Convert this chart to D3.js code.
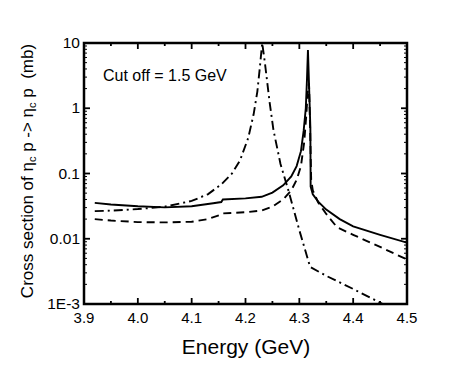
<!DOCTYPE html>
<html><head><meta charset="utf-8">
<script src="https://cdn.jsdelivr.net/npm/d3@7"></script>
<style>body{margin:0;background:#fff}svg{display:block}text{font-family:"Liberation Sans",Arial,sans-serif;fill:#000}</style>
</head><body>
<script>
const xTicks = [3.9, 4.0, 4.1, 4.2, 4.3, 4.4, 4.5];
const xTickLabels = ["3.9","4.0","4.1","4.2","4.3","4.4","4.5"];
const yTicks = [10, 1, 0.1, 0.01, 0.001];
const yTickLabels = ["10","1","0.1","0.01","1E-3"];

const solidE = [3.92,3.95,4.0,4.05,4.1,4.14,4.155,4.158,4.2,4.23,4.25,4.27,4.285,4.295,4.303,4.308,4.312,4.314,4.316,4.3205,4.321,4.325,4.335,4.35,4.375,4.4,4.45,4.5];
const solidV = [0.0355,0.0335,0.0315,0.0303,0.0315,0.0350,0.0365,0.0400,0.0415,0.0440,0.0510,0.0660,0.0900,0.13,0.22,0.45,1.0,2.5,7.8,0.5,0.063,0.048,0.037,0.028,0.020,0.0155,0.0115,0.0087];

const dashE = [3.92,3.95,4.0,4.05,4.1,4.13,4.155,4.158,4.2,4.23,4.25,4.27,4.285,4.295,4.303,4.309,4.313,4.316,4.318,4.32,4.322,4.325,4.335,4.35,4.37,4.4,4.45,4.5];
const dashV = [0.020,0.019,0.018,0.0178,0.0182,0.020,0.0235,0.0245,0.0255,0.027,0.031,0.040,0.055,0.080,0.13,0.3,0.8,2.0,2.4,0.5,0.08,0.055,0.036,0.024,0.015,0.0115,0.0075,0.0048];

const dashDotE = [3.92,3.95,4.0,4.05,4.1,4.13,4.155,4.175,4.19,4.205,4.215,4.222,4.227,4.231,4.236,4.245,4.252,4.265,4.28,4.3,4.32,4.35,4.4,4.45,4.47];
const dashDotV = [0.0265,0.027,0.0285,0.031,0.038,0.048,0.068,0.1,0.16,0.35,0.8,1.8,4.5,10,5,1.2,0.46,0.14,0.054,0.0135,0.0037,0.0027,0.0017,0.00105,0.00085];

const W = 474, H = 366;
const m = {l:84, r:407, t:43, b:304};
const svg = d3.select("body").append("svg").attr("width", W).attr("height", H);
const x = d3.scaleLinear().domain([3.9, 4.5]).range([m.l, m.r]);
const y = d3.scaleLog().domain([0.001, 10]).range([m.b, m.t]);

svg.append("defs").append("clipPath").attr("id","clip").append("rect")
  .attr("x", m.l).attr("y", m.t).attr("width", m.r-m.l).attr("height", m.b-m.t);

// minor ticks
const yMinor = [];
for (let d = 0.001; d < 10; d *= 10) for (let k = 2; k <= 9; k++) yMinor.push(d*k);
const xMinor = [3.95,4.05,4.15,4.25,4.35,4.45];
const tk = svg.append("g").attr("stroke","#000");
yMinor.forEach(v => {
  tk.append("line").attr("x1",m.l).attr("x2",m.l+3).attr("y1",y(v)).attr("y2",y(v)).attr("stroke-width",1);
  tk.append("line").attr("x1",m.r).attr("x2",m.r-3).attr("y1",y(v)).attr("y2",y(v)).attr("stroke-width",1);
});
yTicks.forEach(v => {
  tk.append("line").attr("x1",m.l).attr("x2",m.l+6).attr("y1",y(v)).attr("y2",y(v)).attr("stroke-width",1.8);
  tk.append("line").attr("x1",m.r).attr("x2",m.r-6).attr("y1",y(v)).attr("y2",y(v)).attr("stroke-width",1.8);
});
xMinor.forEach(v => {
  tk.append("line").attr("x1",x(v)).attr("x2",x(v)).attr("y1",m.b).attr("y2",m.b-3).attr("stroke-width",1.8);
  tk.append("line").attr("x1",x(v)).attr("x2",x(v)).attr("y1",m.t).attr("y2",m.t+3).attr("stroke-width",1.8);
});
xTicks.forEach(v => {
  tk.append("line").attr("x1",x(v)).attr("x2",x(v)).attr("y1",m.b).attr("y2",m.b-6).attr("stroke-width",1.8);
  tk.append("line").attr("x1",x(v)).attr("x2",x(v)).attr("y1",m.t).attr("y2",m.t+6).attr("stroke-width",1.8);
});

// tick labels
xTicks.forEach((v,i) => svg.append("text").attr("x",x(v)).attr("y",m.b+19).attr("text-anchor","middle")
  .attr("font-size",15).text(xTickLabels[i]));
yTicks.forEach((v,i) => svg.append("text").attr("x",m.l-4).attr("y",y(v)+5).attr("text-anchor","end")
  .attr("font-size",15.5).text(yTickLabels[i]));

// curves
const line = d3.line().x(d => x(d[0])).y(d => y(d[1]));
const g = svg.append("g").attr("clip-path","url(#clip)").attr("fill","none").attr("stroke","#000");
g.append("path").datum(solidE.map((e,i)=>[e,solidV[i]])).attr("d",line).attr("stroke-width",1.9);
g.append("path").datum(dashE.map((e,i)=>[e,dashV[i]])).attr("d",line).attr("stroke-width",1.9).attr("stroke-dasharray","8,5");
g.append("path").datum(dashDotE.map((e,i)=>[e,dashDotV[i]])).attr("d",line).attr("stroke-width",1.9).attr("stroke-dasharray","9,4,2,4");

// frame
svg.append("rect").attr("x",m.l).attr("y",m.t).attr("width",m.r-m.l).attr("height",m.b-m.t)
  .attr("fill","none").attr("stroke","#000").attr("stroke-width",2.5);

// annotation
svg.append("text").attr("x",103).attr("y",81).attr("font-size",16).text("Cut off = 1.5 GeV");

// axis titles
svg.append("text").attr("x",246).attr("y",354).attr("text-anchor","middle").attr("font-size",21).text("Energy (GeV)");
const yt = svg.append("text").attr("transform","translate(33,171) rotate(-90)").attr("text-anchor","middle").attr("font-size",17);
yt.append("tspan").text("Cross section of η");
yt.append("tspan").attr("font-size",11).attr("dy",3).text("c");
yt.append("tspan").attr("dy",-3).text(" p -> η");
yt.append("tspan").attr("font-size",11).attr("dy",3).text("c");
yt.append("tspan").attr("dy",-3).text(" p\u00a0\u00a0(mb)");
</script>
</body></html>
